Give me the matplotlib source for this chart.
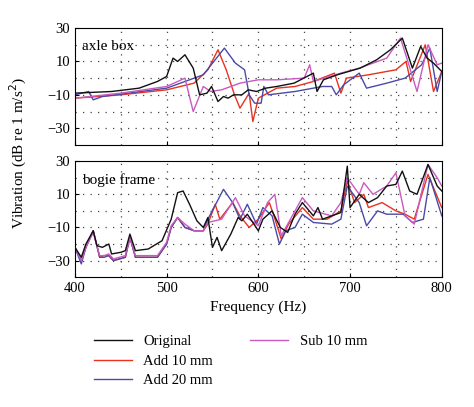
import matplotlib
matplotlib.use("Agg")
import matplotlib.pyplot as plt

plt.rcParams['font.family'] = ['Liberation Serif', 'DejaVu Serif']

C_ORIG = "#111111"; C_A10 = "#e8321e"; C_A20 = "#4a4aa8"; C_S10 = "#c85ac0"

# ---- axle box ----
ab_orig_f = [400, 440, 470, 490, 500, 507, 512, 520, 529, 536, 544, 549, 556, 562, 567, 573, 582, 589, 598, 608, 620, 639, 660, 664, 671, 686, 711, 729, 744, 757, 768, 777, 784, 791, 800]
ab_orig_v = [-9, -8, -6, -2, 1, 12, 10, 14, 6, -10, -9, -5, -14, -11, -12, -10, -10, -7, -8, -6, -5, -3, 3, -8, -1, 2, 6, 11, 17, 24, 6, 19, 12, 9, 4]
ab_a10_f = [400, 450, 500, 530, 545, 556, 565, 574, 580, 590, 594, 600, 620, 640, 660, 683, 690, 696, 720, 750, 761, 766, 782, 791, 800]
ab_a10_v = [-12, -10, -7, -3, 5, 17, 5, -10, -18, -9, -26, -12, -6, -5, -2, 3, -9, 0, 2, 5, 10, -2, 20, -8, 4]
ab_a20_f = [400, 415, 420, 430, 500, 540, 563, 575, 585, 590, 596, 603, 606, 611, 640, 670, 680, 685, 693, 710, 718, 740, 760, 778, 787, 795, 800]
ab_a20_v = [-10, -8, -13, -11, -6, 2, 18, 9, 5, -10, -15, -15, -5, -10, -8, -5, -5, -10, -4, 3, -6, -3, 0, 8, 18, -8, 4]
ab_s10_f = [400, 450, 500, 520, 529, 540, 548, 560, 580, 600, 620, 650, 656, 660, 690, 710, 740, 755, 763, 773, 785, 795, 800]
ab_s10_v = [-12, -9, -5, 0, -20, -5, -8, -7, -3, -1, -1, 0, 8, -2, 3, 6, 12, 24, 10, -8, 20, 8, 9]

# ---- bogie frame ----
bf_orig_f = [400, 407, 412, 420, 424, 430, 437, 440, 450, 455, 460, 466, 480, 495, 505, 512, 518, 525, 533, 540, 545, 550, 555, 560, 570, 578, 582, 588, 600, 605, 615, 624, 632, 640, 648, 660, 665, 670, 690, 697, 700, 710, 720, 730, 740, 750, 757, 765, 773, 785, 795, 800]
bf_orig_v = [-22, -28, -20, -12, -21, -22, -20, -26, -25, -24, -14, -24, -23, -18, -5, 11, 12, 4, -6, -10, -4, -22, -16, -24, -14, -4, -6, -2, -12, -5, 0, -10, -13, -2, 5, -3, 2, -5, -1, 27, 2, 10, 5, 8, 15, 16, 24, 12, 10, 28, 15, 12]
low_f = [400, 407, 412, 420, 427, 432, 437, 442, 455, 460, 466, 490, 500, 505, 512, 520, 530, 540]
bf_a10_f = low_f + [545, 553, 558, 572, 580, 590, 600, 612, 617, 625, 633, 648, 660, 675, 690, 697, 705, 715, 720, 735, 750, 760, 770, 785, 800]
bf_a10_v = [-22, -30, -22, -12, -28, -27, -27, -30, -28, -16, -28, -28, -20, -10, -4, -10, -12, -12,
            -8, 4, -5, 5, -3, -10, -5, 5, -3, -17, -8, 2, -5, -5, 0, 18, 5, 10, 2, 5, 0, -2, -5, 22, 2]
bf_a20_f = low_f + [545, 562, 572, 580, 588, 598, 605, 615, 623, 630, 640, 648, 660, 680, 690, 697, 710, 718, 730, 740, 758, 768, 780, 787, 800]
bf_a20_v = [-22, -32, -22, -12, -28, -28, -27, -30, -28, -16, -28, -28, -20, -10, -4, -10, -12, -12,
            -5, 13, 5, -5, 4, -8, 2, -3, -20, -12, -10, -2, -7, -8, -5, 15, 5, -9, 0, -2, -2, -7, -5, 20, -3]
bf_s10_f = low_f + [545, 560, 575, 585, 600, 610, 618, 625, 635, 648, 660, 680, 690, 697, 710, 715, 725, 740, 750, 760, 770, 785, 795, 800]
bf_s10_v = [-22, -30, -22, -13, -27, -27, -26, -29, -27, -16, -27, -27, -19, -9, -4, -8, -12, -12,
            -7, -5, 8, -3, -9, 5, 10, -15, -5, 8, 0, -3, 5, 20, 10, 17, 10, 15, 23, -3, -8, 28, 20, 15]

labels = ["Original", "Add 10 mm", "Add 20 mm", "Sub 10 mm"]
colors = [C_ORIG, C_A10, C_A20, C_S10]

fig = plt.figure(figsize=(4.74, 4.07), dpi=100)
ax1 = fig.add_axes([0.158, 0.644, 0.774, 0.287])
ax2 = fig.add_axes([0.158, 0.319, 0.774, 0.285])

def panel(ax, series, title):
    lines = []
    for (f, v), c in zip(series, colors):
        ln, = ax.plot(f, v, color=c, lw=1.0)
        lines.append(ln)
    lines[0].set_zorder(3)
    ax.set_xlim(400, 800); ax.set_ylim(-40, 30)
    ax.set_yticks([-30, -10, 10, 30])
    ax.set_xticks([400, 500, 600, 700, 800])
    for x in range(450, 800, 50):
        ax.axvline(x, color="#444444", lw=0.9, ls=(0, (1, 5)), zorder=0)
    for y in [-30, -20, -10, 0, 10, 20]:
        ax.axhline(y, color="#444444", lw=0.9, ls=(0, (1, 5)), zorder=0)
    ax.tick_params(direction="in", labelsize=10.5, length=3)
    ax.text(0.02, 0.84, title, transform=ax.transAxes, fontsize=11, va="center")
    return lines

lines = panel(ax1, [(ab_orig_f, ab_orig_v), (ab_a10_f, ab_a10_v), (ab_a20_f, ab_a20_v), (ab_s10_f, ab_s10_v)], "axle box")
panel(ax2, [(bf_orig_f, bf_orig_v), (bf_a10_f, bf_a10_v), (bf_a20_f, bf_a20_v), (bf_s10_f, bf_s10_v)], "bogie frame")
ax1.set_xticklabels([])
ax2.set_xlabel("Frequency (Hz)", fontsize=11)
fig.text(0.04, 0.625, "Vibration (dB re 1 m/s$^2$)", rotation=90, va="center", ha="center", fontsize=11)

leg_kw = dict(frameon=False, fontsize=10.5, handlelength=2.6, labelspacing=0.45)
fig.legend(lines[:3], labels[:3], loc="upper left", bbox_to_anchor=(0.17, 0.21), **leg_kw)
fig.legend(lines[3:], labels[3:], loc="upper left", bbox_to_anchor=(0.50, 0.21), **leg_kw)

fig.savefig("out.png", dpi=100, facecolor="white")
